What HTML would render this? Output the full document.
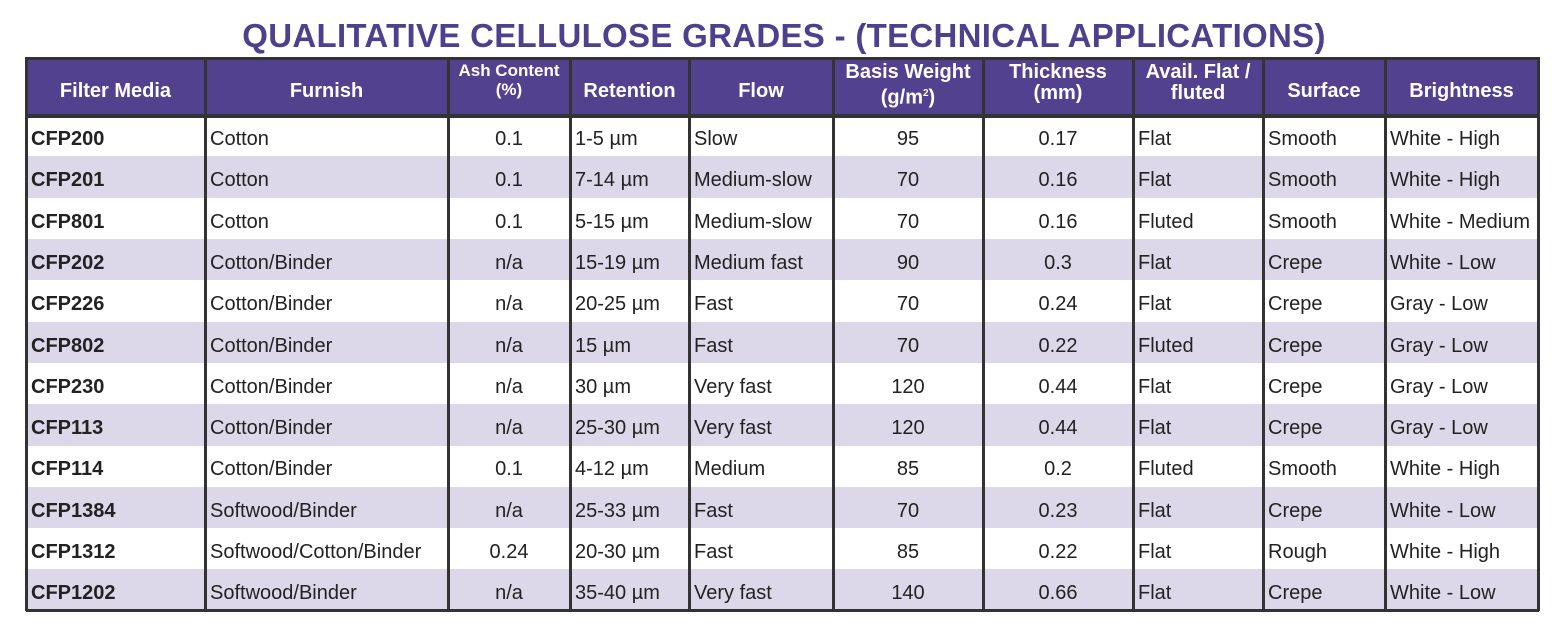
<!DOCTYPE html>
<html><head><meta charset="utf-8"><style>
body{margin:0;width:1568px;height:633px;background:#fff;position:relative;overflow:hidden;font-family:"Liberation Sans",Arial,sans-serif}
.title{position:absolute;left:0;width:1568px;top:17px;text-align:center;font-weight:bold;font-size:33px;color:#4f3f8f;letter-spacing:0.3px}
.hdr{position:absolute;left:26px;top:57px;width:1513px;height:54px;background:#51418f;border-top:3px solid #333;border-bottom:4px solid #333}
.row{position:absolute;left:26px;width:1513px;height:41.5px}
.alt{background:#dcd8ea}
.vl{position:absolute;top:57px;height:554px;width:3px;background:#333}
.c{position:absolute;font-size:20px;color:#222;white-space:nowrap;line-height:20px}
.h{position:absolute;color:#fff;font-weight:bold;text-align:center;font-size:20px;line-height:21px}
.hs{font-size:17px;line-height:19px}
.bl{position:absolute;left:26px;top:609px;width:1513px;height:3px;background:#333}
</style></head><body>
<div class="title">QUALITATIVE CELLULOSE GRADES - (TECHNICAL APPLICATIONS)</div>
<div class="hdr"></div>
<div id="rows"></div>
<script>
var cols=[26,205,448,570,689,833,983,1133,1263,1385,1538];
var hd=[["Filter Media",0],["Furnish",0],["Ash Content<br>(%)",1],["Retention",0],["Flow",0],["Basis Weight<br>(g/m<sup style='font-size:10px'>2</sup>)",1],["Thickness<br>(mm)",1],["Avail. Flat /<br>fluted",1],["Surface",0],["Brightness",0]];
var data=[
["CFP200","Cotton","0.1","1-5 µm","Slow","95","0.17","Flat","Smooth","White - High"],
["CFP201","Cotton","0.1","7-14 µm","Medium-slow","70","0.16","Flat","Smooth","White - High"],
["CFP801","Cotton","0.1","5-15 µm","Medium-slow","70","0.16","Fluted","Smooth","White - Medium"],
["CFP202","Cotton/Binder","n/a","15-19 µm","Medium fast","90","0.3","Flat","Crepe","White - Low"],
["CFP226","Cotton/Binder","n/a","20-25 µm","Fast","70","0.24","Flat","Crepe","Gray - Low"],
["CFP802","Cotton/Binder","n/a","15 µm","Fast","70","0.22","Fluted","Crepe","Gray - Low"],
["CFP230","Cotton/Binder","n/a","30 µm","Very fast","120","0.44","Flat","Crepe","Gray - Low"],
["CFP113","Cotton/Binder","n/a","25-30 µm","Very fast","120","0.44","Flat","Crepe","Gray - Low"],
["CFP114","Cotton/Binder","0.1","4-12 µm","Medium","85","0.2","Fluted","Smooth","White - High"],
["CFP1384","Softwood/Binder","n/a","25-33 µm","Fast","70","0.23","Flat","Crepe","White - Low"],
["CFP1312","Softwood/Cotton/Binder","0.24","20-30 µm","Fast","85","0.22","Flat","Rough","White - High"],
["CFP1202","Softwood/Binder","n/a","35-40 µm","Very fast","140","0.66","Flat","Crepe","White - Low"]];
var center=[false,false,true,false,false,true,true,false,false,false];
var h="";
for(var i=0;i<12;i++){var t=115+i*41.3;
 if(i%2==1)h+='<div class="row alt" style="top:'+t+'px"></div>';
 for(var j=0;j<10;j++){var x=cols[j]+5,w=cols[j+1]-cols[j];
  var st='top:'+(t+14)+'px;';
  if(center[j])st+='left:'+cols[j]+'px;width:'+w+'px;text-align:center;';else st+='left:'+x+'px;';
  if(j==0)st+='font-weight:bold;';
  h+='<div class="c" style="'+st+'">'+data[i][j]+'</div>';}}
for(var j=0;j<10;j++){var two=hd[j][0].indexOf('<br>')>=0;
 h+='<div class="h'+(j==2?' hs':'')+'" style="left:'+cols[j]+'px;width:'+(cols[j+1]-cols[j])+'px;top:'+(two?(j==2?61:62):81)+'px">'+hd[j][0]+'</div>';}
for(var j=0;j<11;j++)h+='<div class="vl" style="left:'+(cols[j]-1)+'px"></div>';
h+='<div class="bl"></div>';
document.getElementById('rows').innerHTML=h;
</script>
</body></html>
